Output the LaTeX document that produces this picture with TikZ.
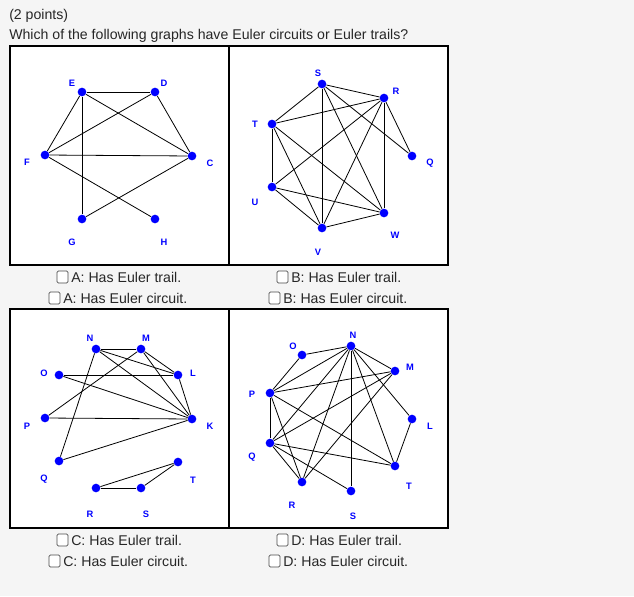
\documentclass[tikz,border=0pt]{standalone}
\usepackage{fontspec}
\setmainfont{Liberation Sans}
\begin{document}
\begin{tikzpicture}[x=0.75pt,y=-0.75pt,
 v/.style={circle,fill=blue,inner sep=0pt,minimum size=6.5pt},
 lb/.style={text=blue,font=\fontsize{7}{8}\selectfont\bfseries,inner sep=0pt},
 e/.style={black,line width=0.6pt},
 panel/.style={draw=black,line width=0.9pt,fill=white},
 txt/.style={anchor=west,font=\fontsize{10.6}{12}\selectfont,inner sep=0pt,text=black!85},
 cb/.style={draw=black!70,fill=white,rounded corners=1pt,line width=0.6pt}]
\fill[black!4] (0,0) rectangle (634,596);
\useasboundingbox (0,0) rectangle (634,596);
\node[txt] (t1) at (9,16) {(2 points)};
\node[txt] (t2) at (9,36) {Which of the following graphs have Euler circuits or Euler trails?};
\draw[panel] (10,46) rectangle (229,265);
\draw[panel] (229,46) rectangle (448,265);
\draw[panel] (10,309) rectangle (229,528);
\draw[panel] (229,309) rectangle (448,528);
% Panel A
\foreach \n/\x/\y/\lx/\ly in {E/82/92/72/83,D/155/92/164/83,C/192/156/210/163,F/45/155/27/162,G/82/219/72/242,H/155/219/164/242}{
 \node[v] (a\n) at (\x,\y) {}; \node[lb] (al\n) at (\lx,\ly) {\n};}
\foreach \a/\b in {E/D,E/F,E/C,E/G,D/F,D/C,F/C,F/H,G/C} \draw[e] (a\a)--(a\b);
% Panel B
\foreach \n/\x/\y/\lx/\ly in {S/322/84/318/73,R/384/98/396/91,T/272/124/255/124,Q/412/156/430/163,U/272/187/255/202,W/384/213/395/235,V/322/228/318/252}{
 \node[v] (b\n) at (\x,\y) {}; \node[lb] (bl\n) at (\lx,\ly) {\n};}
\foreach \a/\b in {S/R,S/T,S/V,S/W,S/Q,R/T,R/Q,R/W,R/U,R/V,T/U,T/V,T/W,U/W,U/V,V/W} \draw[e] (b\a)--(b\b);
% Panel C
\foreach \n/\x/\y/\lx/\ly in {N/96/349/90/338,M/141/349/146/338,O/59/375/44/373,L/178/375/193/373,P/45/418/27/426,K/192/419/210/426,Q/59/461/44/479,T/178/462/193/480,R/96/488/90/514,S/141/488/146/514}{
 \node[v] (c\n) at (\x,\y) {}; \node[lb] (cl\n) at (\lx,\ly) {\n};}
\foreach \a/\b in {N/M,N/L,N/K,N/Q,M/L,M/K,M/P,O/L,O/K,P/K,L/K,Q/K,R/S,R/T,S/T} \draw[e] (c\a)--(c\b);
% Panel D
\foreach \n/\x/\y/\lx/\ly in {N/351/346/353/335,O/302/355/293/346,M/395/371/410/367,P/270/393/252/394,L/412/419/430/426,Q/270/443/252/457,T/395/466/409/486,R/302/482/292/505,S/351/491/353/516}{
 \node[v] (d\n) at (\x,\y) {}; \node[lb] (dl\n) at (\lx,\ly) {\n};}
\foreach \a/\b in {O/N,O/P,N/P,N/M,N/L,N/T,N/S,N/Q,N/R,P/M,P/Q,P/R,P/T,Q/M,Q/R,Q/S,Q/T,R/M,L/T} \draw[e] (d\a)--(d\b);
% checkboxes
\foreach \nm/\x/\y/\s in {a1/57/277/{A: Has Euler trail.},a2/49/298/{A: Has Euler circuit.},b1/277/277/{B: Has Euler trail.},b2/269/298/{B: Has Euler circuit.},c1/57/540/{C: Has Euler trail.},c2/49/561/{C: Has Euler circuit.},d1/277/540/{D: Has Euler trail.},d2/269/561/{D: Has Euler circuit.}}{
 \draw[cb] (\x,\y-6) rectangle (\x+11,\y+6);
 \node[txt] (\nm) at (\x+14,\y) {\s};}
\end{tikzpicture}
\end{document}
